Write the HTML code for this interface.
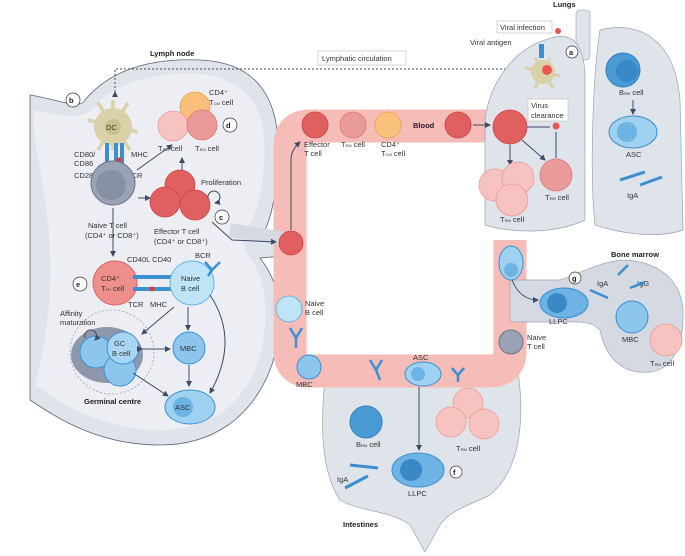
<!DOCTYPE html>
<html><head><meta charset="utf-8"><style>
html,body{margin:0;padding:0;background:#fff}
svg{display:block}
text{font-family:"Liberation Sans",sans-serif;font-size:7.5px;fill:#333}
.b{font-weight:bold;fill:#222}
</style></head><body>
<svg width="685" height="556" viewBox="0 0 685 556" xmlns="http://www.w3.org/2000/svg">
<defs>
<marker id="ar" markerWidth="6" markerHeight="6" refX="5" refY="3" orient="auto"><path d="M0,0 L6,3 L0,6 z" fill="#3e4a66"/></marker>
</defs>
<path d="M30,95 C60,100 80,110 85,100 C110,70 150,58 200,60 C250,62 275,90 278,140 C280,180 272,215 265,230 L295,232 L295,255 L260,258 C285,290 285,330 270,370 C250,420 210,445 160,445 C100,445 60,420 30,400 Z" fill="#dfe3ea" stroke="#5b6680" stroke-width="0.8"/>
<path d="M35,110 C70,120 90,118 100,100 C125,80 160,72 200,74 C240,78 262,100 264,140 C266,180 258,210 250,225 C240,240 245,255 255,265 C270,295 268,335 255,370 C235,415 200,430 160,430 C110,430 70,410 35,385 C50,330 55,270 45,200 C40,160 30,130 35,110 Z" fill="#eceef3"/>
<path d="M115,92 L115,69 L540,69" fill="none" stroke="#3e4a66" stroke-width="1" stroke-dasharray="2,2" marker-start="url(#ar)"/>
<rect x="318" y="51" width="88" height="14" fill="#fff" stroke="#bbb" stroke-width="0.6"/>
<text x="322" y="61">Lymphatic circulation</text>
<text x="150" y="56" class="b">Lymph node</text>
<!-- Intestines (behind band) -->
<path d="M326,372 C360,380 400,385 440,385 C480,385 505,380 518,372 C525,420 520,470 490,495 C470,505 450,510 440,525 L425,552 L410,525 C390,510 360,512 340,500 C320,470 320,420 326,372 Z" fill="#dfe3ea" stroke="#9aa3b5" stroke-width="0.7"/>
<path d="M290,252 L290,146 Q290,126 310,126 L490,126 M510,240 L510,351 Q510,371 490,371 L310,371 Q290,371 290,351 L290,252" fill="none" stroke="#f6bdb8" stroke-width="33"/>
<path d="M230,230 L292,240" stroke="#d5d9e2" stroke-width="14" fill="none"/>
<rect x="576" y="10" width="14" height="50" rx="4" fill="#dfe3ea" stroke="#9aa3b5" stroke-width="0.6"/>
<path d="M545,40 C570,30 585,40 585,80 L585,220 C560,232 520,235 485,225 L485,120 C490,80 515,50 545,40 Z" fill="#dfe3ea" stroke="#9aa3b5" stroke-width="0.7"/>
<path d="M600,30 C640,20 675,40 680,100 L683,230 C660,238 625,235 595,225 C590,180 592,80 600,30 Z" fill="#dfe3ea" stroke="#9aa3b5" stroke-width="0.7"/>
<text x="553" y="7" class="b">Lungs</text>
<rect x="497" y="21" width="55" height="12" fill="#fff" stroke="#bbb" stroke-width="0.6"/>
<text x="500" y="30">Viral infection</text>
<text x="470" y="45">Viral antigen</text>
<circle cx="543" cy="72" r="12" fill="#d9d1a8"/>
<g stroke="#d9d1a8" stroke-width="3"><line x1="525" y1="68" x2="560" y2="76"/><line x1="535" y1="58" x2="553" y2="88"/><line x1="550" y1="58" x2="535" y2="88"/></g>
<circle cx="547" cy="70" r="5" fill="#e55"/>
<rect x="539" y="44" width="5" height="14" fill="#3a8fd0"/>
<circle cx="558" cy="31" r="3" fill="#e55"/>
<circle cx="572" cy="52" r="6" fill="#fff" stroke="#333" stroke-width="0.7"/><text x="569" y="55" class="b">a</text>
<circle cx="510" cy="127" r="17" fill="#e0605f" stroke="#c44" stroke-width="0.8"/>
<rect x="528" y="99" width="40" height="22" fill="#fff" stroke="#bbb" stroke-width="0.6"/>
<text x="531" y="108">Virus</text><text x="531" y="118">clearance</text>
<circle cx="556" cy="126" r="3.5" fill="#e55"/>
<line x1="527" y1="127" x2="550" y2="127" stroke="#3e4a66"/>
<line x1="556" y1="132" x2="556" y2="158" stroke="#3e4a66"/>
<line x1="510" y1="145" x2="510" y2="165" stroke="#3e4a66" marker-end="url(#ar)"/>
<line x1="522" y1="140" x2="545" y2="160" stroke="#3e4a66" marker-end="url(#ar)"/>
<circle cx="495" cy="185" r="16" fill="#f7c3c0" stroke="#e99" stroke-width="0.8"/>
<circle cx="518" cy="178" r="16" fill="#f7c3c0" stroke="#e99" stroke-width="0.8"/>
<circle cx="512" cy="200" r="16" fill="#f7c3c0" stroke="#e99" stroke-width="0.8"/>
<text x="500" y="222">T<tspan font-size="4">RM</tspan> cell</text>
<circle cx="556" cy="175" r="16" fill="#eb9a9a" stroke="#d77" stroke-width="0.8"/>
<text x="545" y="200">T<tspan font-size="4">EM</tspan> cell</text>
<circle cx="623" cy="70" r="17" fill="#4a9bd4" stroke="#2e7fbf"/>
<circle cx="627" cy="71" r="11" fill="#3a88c6"/>
<text x="619" y="95">B<tspan font-size="4">RM</tspan> cell</text>
<line x1="633" y1="100" x2="633" y2="114" stroke="#3e4a66" marker-end="url(#ar)"/>
<ellipse cx="633" cy="132" rx="24" ry="16" fill="#9fd2f0" stroke="#3a8fd0"/>
<circle cx="627" cy="132" r="10" fill="#6db3e3"/>
<text x="626" y="157">ASC</text>
<g stroke="#3a8fd0" stroke-width="3"><line x1="620" y1="180" x2="645" y2="172"/><line x1="640" y1="185" x2="662" y2="177"/></g>
<text x="627" y="198">IgA</text>
<circle cx="315" cy="125" r="13" fill="#e0605f" stroke="#c44" stroke-width="0.8"/>
<circle cx="353" cy="125" r="13" fill="#eb9a9a" stroke="#d77" stroke-width="0.8"/>
<circle cx="388" cy="125" r="13" fill="#f8c07a" stroke="#e9a050" stroke-width="0.8"/>
<circle cx="458" cy="125" r="13" fill="#e0605f" stroke="#c44" stroke-width="0.8"/>
<line x1="473" y1="125" x2="490" y2="125" stroke="#3e4a66" marker-end="url(#ar)"/>
<text x="413" y="128" class="b">Blood</text>
<text x="304" y="147">Effector</text><text x="304" y="156">T cell</text>
<text x="341" y="147">T<tspan font-size="4">EM</tspan> cell</text>
<text x="381" y="147">CD4⁺</text><text x="381" y="156">T<tspan font-size="4">CM</tspan> cell</text>
<circle cx="291" cy="243" r="12" fill="#e0605f" stroke="#c44" stroke-width="0.8"/>
<path d="M291,230 L291,160 Q291,150 300,142" fill="none" stroke="#3e4a66" marker-end="url(#ar)"/>
<circle cx="289" cy="309" r="13" fill="#bfe3f7" stroke="#6db3e3"/>
<text x="305" y="306">Naive</text><text x="305" y="315">B cell</text>
<path d="M290,328 L296,338 M302,328 L296,338 L296,348" stroke="#3a8fd0" stroke-width="2.5" fill="none"/>
<circle cx="309" cy="367" r="12" fill="#8cc6ec" stroke="#3a8fd0"/>
<text x="296" y="387">MBC</text>
<path d="M370,360 L376,370 M382,360 L376,370 L380,380" stroke="#3a8fd0" stroke-width="2.5" fill="none"/>
<ellipse cx="423" cy="374" rx="18" ry="12" fill="#9fd2f0" stroke="#3a8fd0"/>
<circle cx="418" cy="374" r="7" fill="#6db3e3"/>
<text x="413" y="360">ASC</text>
<path d="M452,368 L458,375 M464,368 L458,375 L458,382" stroke="#3a8fd0" stroke-width="2.5" fill="none"/>
<line x1="419" y1="387" x2="419" y2="450" stroke="#3e4a66" marker-end="url(#ar)"/>
<circle cx="366" cy="422" r="16" fill="#4a9bd4" stroke="#2e7fbf"/>
<text x="356" y="447">B<tspan font-size="4">RM</tspan> cell</text>
<circle cx="468" cy="403" r="15" fill="#f7c3c0" stroke="#e99" stroke-width="0.8"/>
<circle cx="451" cy="422" r="15" fill="#f7c3c0" stroke="#e99" stroke-width="0.8"/>
<circle cx="484" cy="424" r="15" fill="#f7c3c0" stroke="#e99" stroke-width="0.8"/>
<text x="456" y="451">T<tspan font-size="4">RM</tspan> cell</text>
<ellipse cx="418" cy="470" rx="26" ry="17" fill="#6db3e3" stroke="#3a8fd0"/>
<circle cx="411" cy="470" r="11" fill="#3a88c6"/>
<text x="408" y="496">LLPC</text>
<circle cx="456" cy="472" r="6" fill="#fff" stroke="#333" stroke-width="0.7"/><text x="453" y="475" class="b">f</text>
<g stroke="#3a8fd0" stroke-width="3"><line x1="350" y1="465" x2="378" y2="468"/><line x1="345" y1="488" x2="368" y2="476"/></g>
<text x="337" y="482">IgA</text>
<text x="343" y="527" class="b">Intestines</text>
<path d="M510,280 L560,280 C590,270 610,255 640,262 C665,268 685,285 683,320 C682,350 670,370 650,372 C620,375 605,355 600,330 C590,320 580,322 560,322 L510,322 Z" fill="#d5d9e2" stroke="#9aa3b5" stroke-width="0.7"/>
<text x="611" y="257" class="b">Bone marrow</text>
<ellipse cx="511" cy="263" rx="12" ry="17" fill="#9fd2f0" stroke="#3a8fd0"/>
<circle cx="511" cy="270" r="7" fill="#6db3e3"/>
<circle cx="511" cy="342" r="12" fill="#9aa3b5" stroke="#6b7489"/>
<text x="527" y="340">Naive</text><text x="527" y="349">T cell</text>
<path d="M512,280 Q520,300 538,300" fill="none" stroke="#3e4a66" marker-end="url(#ar)"/>
<ellipse cx="564" cy="303" rx="24" ry="15" fill="#6db3e3" stroke="#3a8fd0"/>
<circle cx="557" cy="303" r="10" fill="#3a88c6"/>
<text x="549" y="324">LLPC</text>
<circle cx="575" cy="278" r="6" fill="#fff" stroke="#333" stroke-width="0.7"/><text x="572" y="281" class="b">g</text>
<text x="597" y="286">IgA</text><text x="637" y="286">IgG</text>
<g stroke="#3a8fd0" stroke-width="2.5"><line x1="590" y1="290" x2="608" y2="298"/><line x1="618" y1="275" x2="628" y2="265"/><line x1="630" y1="288" x2="645" y2="282"/></g>
<circle cx="632" cy="317" r="16" fill="#8cc6ec" stroke="#3a8fd0"/>
<text x="622" y="342">MBC</text>
<circle cx="666" cy="340" r="16" fill="#f7c3c0" stroke="#e99" stroke-width="0.8"/>
<text x="650" y="366">T<tspan font-size="4">RM</tspan> cell</text>
<circle cx="73" cy="100" r="7" fill="#fff" stroke="#333" stroke-width="0.7"/><text x="69" y="103" class="b">b</text>
<g stroke="#d9d1a8" stroke-width="3.5"><line x1="88" y1="120" x2="138" y2="132"/><line x1="98" y1="103" x2="130" y2="150"/><line x1="128" y1="103" x2="98" y2="150"/><line x1="113" y1="100" x2="113" y2="150"/></g>
<circle cx="113" cy="127" r="19" fill="#d9d1a8"/>
<circle cx="113" cy="127" r="8" fill="#c9c08e"/>
<text x="106" y="130">DC</text>
<g fill="#3a8fd0"><rect x="105" y="143" width="4" height="32"/><rect x="114" y="143" width="4" height="32"/><rect x="120" y="143" width="4" height="32"/></g>
<circle cx="119" cy="160" r="2.5" fill="#e33"/>
<text x="74" y="157">CD80/</text><text x="74" y="166">CD86</text>
<text x="131" y="157">MHC</text><text x="74" y="178">CD28</text><text x="127" y="178">TCR</text>
<circle cx="113" cy="183" r="22" fill="#9aa3b5" stroke="#6b7489"/>
<circle cx="111" cy="185" r="15" fill="#8790a4"/>
<text x="88" y="228">Naive T cell</text><text x="85" y="238">(CD4⁺ or CD8⁺)</text>
<circle cx="195" cy="107" r="15" fill="#f8c07a" stroke="#e9a050" stroke-width="0.8"/>
<circle cx="173" cy="126" r="15" fill="#f7c3c0" stroke="#e99" stroke-width="0.8"/>
<circle cx="202" cy="125" r="15" fill="#eb9a9a" stroke="#d77" stroke-width="0.8"/>
<text x="209" y="95">CD4⁺</text><text x="209" y="105">T<tspan font-size="4">CM</tspan> cell</text>
<text x="158" y="151">T<tspan font-size="4">RM</tspan> cell</text><text x="195" y="151">T<tspan font-size="4">EM</tspan> cell</text>
<circle cx="230" cy="125" r="7" fill="#fff" stroke="#333" stroke-width="0.7"/><text x="226" y="128" class="b">d</text>
<line x1="137" y1="170" x2="172" y2="145" stroke="#3e4a66" marker-end="url(#ar)"/>
<line x1="182" y1="170" x2="182" y2="158" stroke="#3e4a66" marker-end="url(#ar)"/>
<line x1="138" y1="198" x2="150" y2="198" stroke="#3e4a66" marker-end="url(#ar)"/>
<circle cx="180" cy="185" r="15" fill="#e0605f" stroke="#c44" stroke-width="0.8"/>
<circle cx="165" cy="202" r="15" fill="#e0605f" stroke="#c44" stroke-width="0.8"/>
<circle cx="195" cy="205" r="15" fill="#e0605f" stroke="#c44" stroke-width="0.8"/>
<text x="201" y="185">Proliferation</text>
<path d="M208,198 A6,6 0 1 1 215,203" fill="none" stroke="#3e4a66" marker-end="url(#ar)"/>
<text x="154" y="234">Effector T cell</text><text x="154" y="244">(CD4⁺ or CD8⁺)</text>
<circle cx="222" cy="217" r="7" fill="#fff" stroke="#333" stroke-width="0.7"/><text x="219" y="220" class="b">c</text>
<path d="M212,222 L232,240 L276,242" fill="none" stroke="#3e4a66" marker-end="url(#ar)"/>
<line x1="113" y1="208" x2="113" y2="256" stroke="#3e4a66" marker-end="url(#ar)"/>
<circle cx="115" cy="283" r="22" fill="#ee8f8c" stroke="#d66"/>
<text x="101" y="281">CD4⁺</text><text x="101" y="291">T<tspan font-size="4">FH</tspan> cell</text>
<circle cx="80" cy="284" r="7" fill="#fff" stroke="#333" stroke-width="0.7"/><text x="76" y="287" class="b">e</text>
<g fill="#3a8fd0"><rect x="133" y="275" width="40" height="4"/><rect x="133" y="287" width="40" height="4"/></g>
<circle cx="152" cy="289" r="2.5" fill="#e33"/>
<text x="127" y="262">CD40L CD40</text><text x="195" y="258">BCR</text>
<text x="128" y="307">TCR</text><text x="150" y="307">MHC</text>
<circle cx="192" cy="283" r="22" fill="#bfe3f7" stroke="#6db3e3"/>
<text x="181" y="281">Naive</text><text x="181" y="291">B cell</text>
<path d="M205,262 L212,270 M220,262 L212,270 L208,276" stroke="#3a8fd0" stroke-width="2.5" fill="none"/>
<circle cx="112" cy="352" r="42" fill="none" stroke="#9aa3b5" stroke-dasharray="2,2" stroke-width="0.8"/>
<ellipse cx="107" cy="355" rx="36" ry="28" fill="#8e97ab"/>
<circle cx="96" cy="352" r="16" fill="#8cc6ec" stroke="#3a8fd0"/>
<circle cx="120" cy="370" r="16" fill="#8cc6ec" stroke="#3a8fd0"/>
<circle cx="123" cy="348" r="16" fill="#a8d6f2" stroke="#3a8fd0"/>
<text x="114" y="346">GC</text><text x="112" y="356">B cell</text>
<text x="60" y="316">Affinity</text><text x="60" y="325">maturation</text>
<path d="M85,338 A6,6 0 1 1 95,340" fill="none" stroke="#3e4a66" marker-end="url(#ar)"/>
<text x="84" y="404" class="b">Germinal centre</text>
<line x1="174" y1="307" x2="142" y2="334" stroke="#3e4a66" marker-end="url(#ar)"/>
<line x1="142" y1="349" x2="170" y2="349" stroke="#3e4a66" marker-end="url(#ar)" marker-start="url(#ar)"/>
<line x1="188" y1="307" x2="188" y2="330" stroke="#3e4a66" marker-end="url(#ar)"/>
<circle cx="189" cy="348" r="16" fill="#8cc6ec" stroke="#3a8fd0"/>
<text x="180" y="351">MBC</text>
<line x1="189" y1="365" x2="189" y2="386" stroke="#3e4a66" marker-end="url(#ar)"/>
<line x1="133" y1="373" x2="168" y2="396" stroke="#3e4a66" marker-end="url(#ar)"/>
<path d="M210,295 Q240,340 210,393" fill="none" stroke="#3e4a66" marker-end="url(#ar)"/>
<ellipse cx="190" cy="407" rx="25" ry="17" fill="#9fd2f0" stroke="#3a8fd0"/>
<circle cx="183" cy="407" r="10" fill="#6db3e3"/>
<text x="175" y="410">ASC</text>
</svg>
</body></html>
